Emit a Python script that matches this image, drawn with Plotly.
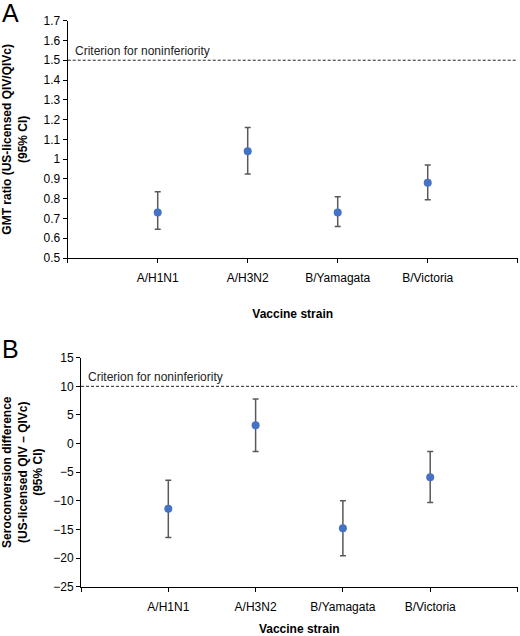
import plotly.graph_objects as go
from plotly.subplots import make_subplots

strains = ["A/H1N1", "A/H3N2", "B/Yamagata", "B/Victoria"]

# Panel A: GMT ratio (US-licensed QIV / QIVc)
gmt_ratio = [0.73, 1.04, 0.73, 0.88]
gmt_lower = [0.645, 0.925, 0.66, 0.795]
gmt_upper = [0.835, 1.16, 0.81, 0.97]
gmt_criterion = 1.5
gmt_ticks = [0.5, 0.6, 0.7, 0.8, 0.9, 1, 1.1, 1.2, 1.3, 1.4, 1.5, 1.6, 1.7]

# Panel B: seroconversion difference (US-licensed QIV - QIVc)
sc_diff = [-11.4, 3.2, -14.8, -5.9]
sc_lower = [-16.4, -1.4, -19.6, -10.3]
sc_upper = [-6.4, 7.8, -10.0, -1.4]
sc_criterion = 10
sc_ticks = [-25, -20, -15, -10, -5, 0, 5, 10, 15]

FONT = "Liberation Sans, Arial, sans-serif"
MARKER = "#4472C4"
BAR = "#595959"

xpos = list(range(1, len(strains) + 1))
xticks = list(range(0, len(strains) + 2))
xlabels = [""] + strains + [""]

fig = make_subplots(rows=2, cols=1)

panels = [
    (gmt_ratio, gmt_lower, gmt_upper, gmt_criterion, gmt_ticks, 1),
    (sc_diff, sc_lower, sc_upper, sc_criterion, sc_ticks, 2),
]
for vals, lo, hi, crit, ticks, row in panels:
    xr = "x" if row == 1 else "x2"
    yr = "y" if row == 1 else "y2"
    fig.add_trace(go.Scatter(
        x=xpos, y=vals, mode="markers",
        marker=dict(color=MARKER, size=8),
        error_y=dict(type="data", symmetric=False,
                     array=[h - v for h, v in zip(hi, vals)],
                     arrayminus=[v - l for v, l in zip(vals, lo)],
                     color=BAR, thickness=1.5, width=3),
        showlegend=False, hoverinfo="skip",
    ), row=row, col=1)
    fig.add_shape(type="line", x0=xticks[0], x1=xticks[-1], y0=crit, y1=crit,
                  line=dict(color="#222222", width=1, dash="3px,2px"),
                  xref=xr, yref=yr)
    fig.add_annotation(text="Criterion for noninferiority", x=xticks[0] + 0.06, y=crit,
                       xref=xr, yref=yr,
                       xanchor="left", yanchor="bottom", showarrow=False, yshift=0,
                       font=dict(size=12, color="#222222"))
    fig.update_xaxes(range=[xticks[0], xticks[-1]], tickvals=xticks, ticktext=xlabels,
                     row=row, col=1)
    fig.update_yaxes(range=[ticks[0], ticks[-1]], tickvals=ticks, row=row, col=1)

fig.update_xaxes(showline=True, linecolor="black", linewidth=1, ticks="outside",
                 ticklen=4, tickcolor="black", showgrid=False, zeroline=False,
                 automargin=False,
                 tickfont=dict(size=12, color="black"), ticklabelstandoff=5,
                 title=dict(text="<b>Vaccine strain</b>", font=dict(size=12, color="black"),
                            standoff=25))
fig.update_yaxes(showline=True, linecolor="black", linewidth=1, ticks="outside",
                 ticklen=4, tickcolor="black", showgrid=False, zeroline=False,
                 automargin=False,
                 tickfont=dict(size=12, color="black"))

fig.update_layout(
    width=520, height=636,
    margin=dict(l=0, r=0, t=0, b=0),
    paper_bgcolor="white", plot_bgcolor="white",
    font=dict(family=FONT, color="black"),
    xaxis=dict(domain=[0.1302, 0.9956]),
    yaxis=dict(domain=[0.5943, 0.9675],
               title=dict(text="<b>GMT ratio (US-licensed QIV/QIVc)<br>(95% CI)</b>",
                          font=dict(size=12), standoff=13)),
    xaxis2=dict(domain=[0.1558, 0.9952]),
    yaxis2=dict(domain=[0.0775, 0.4376],
                title=dict(text="<b>Seroconversion difference<br>(US-licensed QIV – QIVc)<br>(95% CI)</b>",
                           font=dict(size=12), standoff=8)),
)

fig.add_annotation(text="A", x=0, y=1.005, xref="paper", yref="paper",
                   xanchor="left", yanchor="top", showarrow=False,
                   font=dict(size=25, color="black"))
fig.add_annotation(text="B", x=0, y=1 - 333 / 636, xref="paper", yref="paper",
                   xanchor="left", yanchor="top", showarrow=False,
                   font=dict(size=25, color="black"))

# the page body has a default 8px margin; drop it so the figure fills the window
fig.write_html("out.html", config={"displayModeBar": False},
               post_script="document.body.style.margin='0';")
